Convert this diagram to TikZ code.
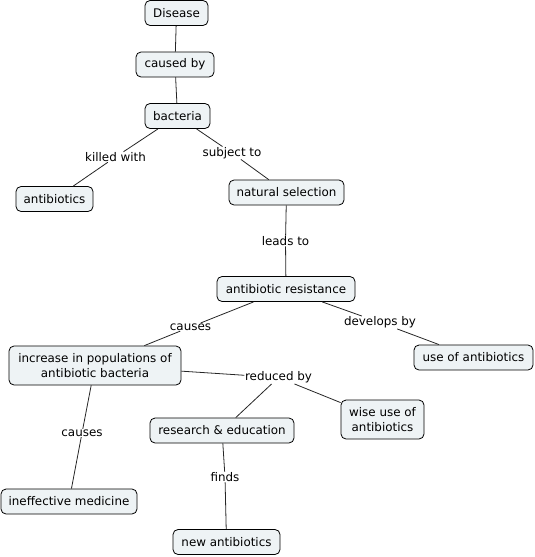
\documentclass[tikz,border=0pt]{standalone}
\usepackage{fontspec}
\setmainfont{DejaVu Sans}
\begin{document}
\begin{tikzpicture}[x=1pt,y=-1pt,
  concept/.style={draw=black,line width=0.8pt,fill=boxfill,rounded corners=5pt,
    inner xsep=4pt,inner ysep=0pt,minimum height=25pt,align=center,
    font=\fontsize{11.9}{15}\selectfont},
  link/.style={inner sep=0.5pt,font=\fontsize{11.9}{14}\selectfont},
  conn/.style={draw=black!85,line width=0.8pt}]
\definecolor{boxfill}{HTML}{EEF3F5}
\useasboundingbox (0,0) rectangle (535,557);
% concepts
\node[concept,minimum width=63pt] (disease) at (176.5,13) {Disease};
\node[concept,minimum width=78pt] (causedby) at (175,64.5) {caused by};
\node[concept,minimum width=65pt] (bacteria) at (177.5,116) {bacteria};
\node[concept,minimum width=77pt] (antibiotics) at (54.5,199) {antibiotics};
\node[concept,minimum width=115pt] (natsel) at (286.5,192.5) {natural selection};
\node[concept,minimum width=138pt] (resist) at (286,289) {antibiotic resistance};
\node[concept,minimum width=119pt] (useof) at (473.5,357.5) {use of antibiotics};
\node[concept,minimum width=172pt,minimum height=39pt] (increase) at (95,365.5) {increase in populations of\\antibiotic bacteria};
\node[concept,minimum width=144pt] (research) at (222,430.5) {research \& education};
\node[concept,minimum width=83pt,minimum height=39pt] (wise) at (382.5,419.5) {wise use of\\antibiotics};
\node[concept,minimum width=136pt] (ineffective) at (69,501.5) {ineffective medicine};
\node[concept,minimum width=107pt] (newab) at (226.5,542) {new antibiotics};
% linking phrases
\node[link] (killed) at (115.5,157) {killed with};
\node[link] (subject) at (232,153) {subject to};
\node[link] (leads) at (285.5,241) {leads to};
\node[link] (causesA) at (190.5,327) {causes};
\node[link] (develops) at (380,322.5) {develops by};
\node[link] (reduced) at (278.5,377.5) {reduced by};
\node[link] (causesB) at (82,433) {causes};
\node[link] (finds) at (225,477) {finds};
% connectors
\draw[conn] (disease) -- (causedby);
\draw[conn] (causedby) -- (bacteria);
\draw[conn] (bacteria) -- (killed);
\draw[conn] (killed) -- (antibiotics);
\draw[conn] (bacteria) -- (subject);
\draw[conn] (subject) -- (natsel);
\draw[conn] (natsel) -- (leads);
\draw[conn] (leads) -- (resist);
\draw[conn] (resist) -- (causesA);
\draw[conn] (causesA) -- (increase);
\draw[conn] (resist) -- (develops);
\draw[conn] (develops) -- (useof);
\draw[conn] (increase) -- (reduced);
\draw[conn] (reduced) -- (research);
\draw[conn] (reduced) -- (wise);
\draw[conn] (increase) -- (causesB);
\draw[conn] (causesB) -- (ineffective);
\draw[conn] (research) -- (finds);
\draw[conn] (finds) -- (newab);
\end{tikzpicture}
\end{document}
